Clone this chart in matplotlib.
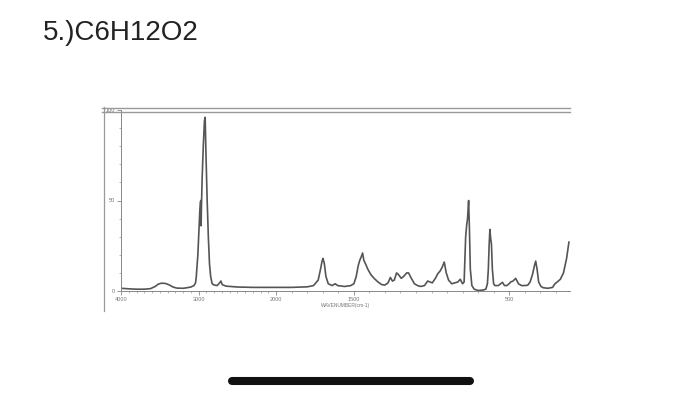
import numpy as np
import matplotlib.pyplot as plt
from matplotlib.lines import Line2D
from matplotlib.ticker import FixedLocator, MultipleLocator

# traced spectrum: wavenumber (cm-1) and intensity
wavenumber = [
    4000, 3900, 3800, 3700, 3620, 3560, 3520, 3480, 3430, 3380, 3330, 3280,
    3200, 3150, 3100, 3060, 3040, 3030, 3010, 2995, 2985, 2978, 2972, 2968,
    2964, 2955, 2940, 2925, 2916, 2905, 2890, 2875, 2860, 2845, 2826, 2800,
    2760, 2730, 2713, 2695, 2650, 2500, 2300, 2100, 1900, 1800, 1760, 1730,
    1715, 1705, 1699, 1690, 1680, 1665, 1640, 1620, 1605, 1560, 1520, 1500,
    1485, 1472, 1462, 1452, 1444, 1436, 1425, 1410, 1390, 1370, 1345, 1320,
    1300, 1280, 1265, 1252, 1240, 1225, 1212, 1195, 1180, 1160, 1148, 1130,
    1110, 1090, 1070, 1045, 1025, 1010, 995, 975, 960, 945, 932, 918, 905,
    890, 870, 850, 830, 815, 800, 790, 780, 774, 768, 761, 756, 750, 740,
    725, 700, 670, 650, 640, 634, 629, 624, 619, 614, 608, 600, 592, 570,
    555, 543, 530, 515, 500, 490, 475, 458, 440, 420, 400, 380, 365, 350,
    337, 329, 320, 310, 295, 280, 250, 220, 205, 190, 170, 150, 130, 115,
]
intensity = [
    1.5, 1.2, 1.0, 1.0, 1.3, 2.5, 3.8, 4.3, 4.2, 3.4, 2.2, 1.6,
    1.5, 1.8, 2.2, 3.0, 4.5, 8.0, 20.0, 35.0, 44.0, 49.0, 50.0, 36.0,
    46.0, 62.0, 80.0, 94.0, 96.0, 75.0, 50.0, 30.0, 15.0, 8.0, 4.0, 3.3,
    3.0, 4.5, 5.5, 3.5, 2.7, 2.2, 2.0, 2.0, 2.0, 2.3, 3.0, 6.0,
    12.0, 16.5, 18.0, 15.0, 8.0, 4.0, 3.0, 4.0, 3.0, 2.5, 3.0, 4.0,
    8.0, 14.0, 17.0, 19.0, 21.0, 17.0, 15.0, 12.0, 9.0, 7.0, 5.0, 3.5,
    3.3, 4.5, 7.5, 5.5, 6.0, 10.0, 9.0, 7.0, 8.0, 10.0, 10.0, 7.0,
    4.0, 3.0, 2.5, 3.0, 5.5, 5.0, 4.5, 7.0, 9.5, 11.0, 13.0, 16.0, 10.0,
    6.0, 4.0, 4.5, 5.0, 6.5, 4.0, 5.0, 30.0, 36.0, 40.0, 50.0, 35.0, 12.0, 3.0,
    1.0, 0.3, 0.5, 1.0, 4.0, 12.0, 25.0, 34.0, 29.0, 26.0, 12.0, 4.0, 3.0, 3.0,
    4.0, 4.8, 3.0, 3.0, 4.0, 5.0, 5.5, 7.0, 4.0, 3.0, 3.0, 3.2, 5.0, 9.0,
    14.0, 16.5, 12.0, 5.0, 2.5, 1.8, 1.5, 2.0, 4.0, 5.0, 6.5, 10.0, 18.0, 27.0,
]

x_labels = [4000, 3000, 2000, 1500, 500]
y_labels = [0, 50, 100]


# chart uses half the scale above 2000 cm-1
def fwd(w):
    w = np.asarray(w, dtype=float)
    return np.where(w >= 2000, w, 2 * w - 2000)


def inv(v):
    v = np.asarray(v, dtype=float)
    return np.where(v >= 2000, v, (v + 2000) / 2)


def main():
    plt.rcParams['font.family'] = ['Liberation Sans', 'DejaVu Sans']
    fig = plt.figure(figsize=(7, 3.95), dpi=100)

    ax = fig.add_axes([121 / 700, 1 - 291 / 395, 449 / 700, 181 / 395])
    ax.set_xscale('function', functions=(fwd, inv))
    ax.plot(wavenumber, intensity, color='#555555', lw=1.2)
    ax.set_xlim(4000, 108)
    ax.set_ylim(0, 100)

    ax.xaxis.set_major_locator(FixedLocator(x_labels))
    ax.xaxis.set_minor_locator(FixedLocator(np.arange(4000, 100, -100)))
    ax.yaxis.set_major_locator(FixedLocator(y_labels))
    ax.yaxis.set_minor_locator(MultipleLocator(10))
    ax.tick_params(which='major', length=3, width=0.6, colors='#888888',
                   labelsize=4, labelcolor='#777777', pad=1.5)
    ax.tick_params(which='minor', length=1.5, width=0.5, colors='#999999')
    ax.set_xlabel("WAVENUMBER(cm-1)", fontsize=3.5, color='#777777',
                  labelpad=0.5)

    for side in ['top', 'right']:
        ax.spines[side].set_visible(False)
    for side in ['left', 'bottom']:
        ax.spines[side].set_color('#888888')
        ax.spines[side].set_linewidth(0.7)

    # outer frame: double top line and left line
    for py in [108, 111.5]:
        fig.add_artist(Line2D([102 / 700, 570 / 700], [1 - py / 395] * 2,
                              color='#999999', lw=1.0))
    fig.add_artist(Line2D([104 / 700] * 2, [1 - 107 / 395, 1 - 311 / 395],
                          color='#999999', lw=0.9))

    fig.text(43 / 700, 1 - 33 / 395, "5.)C6H12O2", fontsize=20,
             color='#222222', va='center')

    # phone home indicator
    fig.add_artist(Line2D([232 / 700, 470 / 700], [1 - 381 / 395] * 2,
                          color='#111111', lw=5.8, solid_capstyle='round'))

    fig.savefig("out.png", dpi=100, facecolor='white')


if __name__ == "__main__":
    main()
